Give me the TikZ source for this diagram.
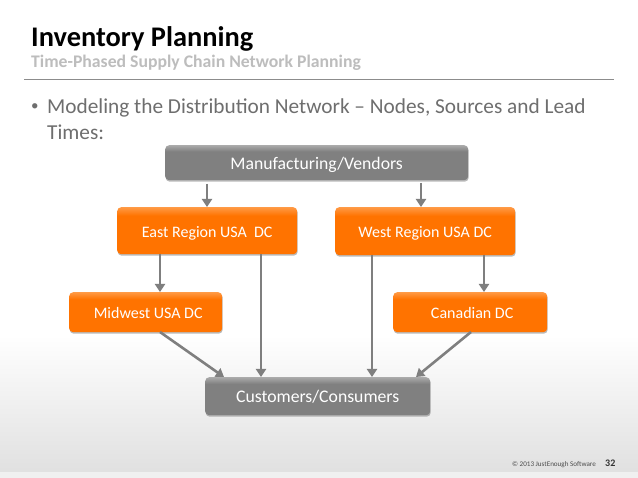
\documentclass[tikz,border=0pt]{standalone}
\usepackage{fontspec}
\setmainfont{Carlito}
\usetikzlibrary{arrows.meta,shadows}
\definecolor{orangebox}{HTML}{FF7300}
\definecolor{orangetop}{HTML}{FF9A45}
\definecolor{greybox}{HTML}{808080}
\definecolor{greytop}{HTML}{AAAAAA}
\definecolor{bodytext}{HTML}{6E6E6E}
\definecolor{subtext}{HTML}{BDBDBD}
\definecolor{linkgrey}{HTML}{7F7F7F}
\pgfdeclareverticalshading{orangeshade}{100bp}{color(0bp)=(orangebox); color(66bp)=(orangebox); color(75bp)=(orangetop); color(100bp)=(orangetop)}
\pgfdeclareverticalshading{greyshade}{100bp}{color(0bp)=(greybox); color(66bp)=(greybox); color(75bp)=(greytop); color(100bp)=(greytop)}
\tikzset{
  x=1pt,y=-1pt,
  box/.style={draw=none,rounded corners=4pt,anchor=north west,inner sep=0pt,text=white,align=center,text height=13pt,text depth=0pt,
    drop shadow={shadow xshift=0.5pt,shadow yshift=-1.5pt,opacity=.45,fill=black!60}},
  obox/.style={box,shading=orangeshade,font=\fontsize{16}{18}\selectfont},
  gbox/.style={box,shading=greyshade,font=\fontsize{17.7}{19}\selectfont},
  link/.style={draw=linkgrey,line width=2.6pt,-{Triangle[length=8pt,width=10pt]}},
  txt/.style={anchor=base west,inner sep=0pt},
}
\begin{document}
\begin{tikzpicture}
\useasboundingbox (0,0) rectangle (638,478);
\fill[white] (0,0) rectangle (638,478);
\shade[top color=white,bottom color=black!12] (0,335) rectangle (638,472);
\fill[black!6] (0,472) rectangle (638,478);
\node[txt,font=\fontsize{28.4}{30}\selectfont\bfseries,text=black] (title) at (31,47) {Inventory Planning};
\node[txt,font=\fontsize{17.7}{19}\selectfont\bfseries,text=subtext] (sub) at (31,68) {Time-Phased Supply Chain Network Planning};
\draw[black!45,line width=0.8pt] (24,79.5) -- (614,79.5);
\node[txt,font=\fontsize{15}{17}\selectfont,text=bodytext] (bul) at (31,111) {•};
\node[txt,font=\fontsize{21.3}{23}\selectfont,text=bodytext] (b1) at (47,114) {Modeling the Distribution Network – Nodes, Sources and Lead};
\node[txt,font=\fontsize{21.3}{23}\selectfont,text=bodytext] (b2) at (47,139.5) {Times:};
\node[gbox,minimum width=303pt,minimum height=35pt] (mfg) at (165,145) {Manufacturing/Vendors};
\node[obox,minimum width=180pt,minimum height=47pt] (east) at (117,207) {East Region USA\ \ DC};
\node[obox,minimum width=180pt,minimum height=48pt] (west) at (335,207) {West Region USA DC};
\node[obox,minimum width=153pt,minimum height=40pt] (mid) at (69,292) {\hspace*{5pt}Midwest USA DC};
\node[obox,minimum width=154pt,minimum height=40pt] (can) at (393,292) {\hspace*{4pt}Canadian DC};
\node[gbox,minimum width=225pt,minimum height=38pt] (cust) at (205,377) {Customers/Consumers};
\coordinate (m1) at (207,184);
\coordinate (m2) at (421,183);
\draw[link] (m1) -- (m1 |- east.north);
\draw[link] (m2) -- (m2 |- west.north);
\coordinate (e1) at (160,254);
\coordinate (e2) at (261,254);
\coordinate (w1) at (372,255);
\coordinate (w2) at (484,255);
\draw[link] (e1) -- (e1 |- mid.north);
\draw[link] (e2) -- (e2 |- cust.north);
\draw[link] (w1) -- (w1 |- cust.north);
\draw[link] (w2) -- (w2 |- can.north);
\coordinate (c1) at (224,377);
\coordinate (c2) at (416,377);
\coordinate (d1) at (160,332);
\coordinate (d2) at (471,332);
\draw[link] (d1) -- (c1);
\draw[link] (d2) -- (c2);
\node[txt,font=\fontsize{7.1}{9}\selectfont,text=black!70] (copy) at (512,467) {© 2013 JustEnough Software};
\node[txt,font=\fontsize{10}{11}\selectfont\bfseries,text=black!80] (pg) at (605,467) {32};
\end{tikzpicture}
\end{document}
